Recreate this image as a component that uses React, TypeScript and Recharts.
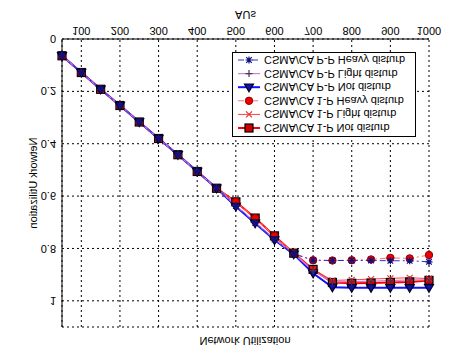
import { CartesianGrid, Legend, Line, LineChart, XAxis, YAxis } from "recharts";

const xs = [50, 100, 150, 200, 250, 300, 350, 400, 450, 500, 550, 600, 650, 700, 750, 800, 850, 900, 950, 1000];

const ppHeavy = [0.064, 0.128, 0.192, 0.254, 0.317, 0.38, 0.442, 0.506, 0.57, 0.638, 0.702, 0.766, 0.821, 0.845, 0.846, 0.846, 0.846, 0.847, 0.847, 0.851];
const ppLight = [0.064, 0.128, 0.192, 0.254, 0.317, 0.38, 0.442, 0.506, 0.57, 0.636, 0.7, 0.764, 0.82, 0.885, 0.928, 0.927, 0.925, 0.923, 0.92, 0.92];
const ppNot = [0.064, 0.128, 0.192, 0.254, 0.317, 0.38, 0.442, 0.506, 0.57, 0.64, 0.704, 0.768, 0.822, 0.895, 0.948, 0.95, 0.95, 0.95, 0.95, 0.95];
const opHeavy = [0.064, 0.128, 0.192, 0.254, 0.317, 0.38, 0.442, 0.506, 0.57, 0.622, 0.684, 0.752, 0.818, 0.845, 0.846, 0.845, 0.842, 0.836, 0.838, 0.825];
const opLight = [0.064, 0.128, 0.192, 0.254, 0.317, 0.38, 0.442, 0.506, 0.57, 0.624, 0.686, 0.754, 0.818, 0.88, 0.922, 0.92, 0.917, 0.914, 0.912, 0.915];
const opNot = [0.064, 0.128, 0.192, 0.254, 0.317, 0.38, 0.442, 0.506, 0.57, 0.622, 0.684, 0.752, 0.818, 0.88, 0.93, 0.933, 0.932, 0.93, 0.928, 0.922];

const xTicks = [100, 200, 300, 400, 500, 600, 700, 800, 900, 1000];
const yTicks = [0, 0.2, 0.4, 0.6, 0.8, 1];

const data = xs.map((x, i) => ({
  x,
  ppHeavy: ppHeavy[i],
  ppLight: ppLight[i],
  ppNot: ppNot[i],
  opHeavy: opHeavy[i],
  opLight: opLight[i],
  opNot: opNot[i]
}));

const FONT = "'Liberation Sans', Arial, sans-serif";

type Marker = "star" | "plus" | "tri" | "circle" | "cross" | "square";

function drawMarker(kind: Marker, cx: number, cy: number, stroke: string, fill: string, key?: number) {
  const r = 3.5;
  switch (kind) {
    case "star":
      return (
        <path
          key={key}
          d={`M${cx - r},${cy}H${cx + r}M${cx},${cy - r}V${cy + r}M${cx - 2.8},${cy - 2.8}L${cx + 2.8},${cy + 2.8}M${cx - 2.8},${cy + 2.8}L${cx + 2.8},${cy - 2.8}`}
          stroke={stroke}
          strokeWidth={1.2}
          fill="none"
        />
      );
    case "plus":
      return (
        <path key={key} d={`M${cx - r},${cy}H${cx + r}M${cx},${cy - r}V${cy + r}`} stroke={stroke} strokeWidth={1.2} fill="none" />
      );
    case "cross":
      return (
        <path
          key={key}
          d={`M${cx - 3},${cy - 3}L${cx + 3},${cy + 3}M${cx - 3},${cy + 3}L${cx + 3},${cy - 3}`}
          stroke={stroke}
          strokeWidth={1.1}
          fill="none"
        />
      );
    case "tri":
      return (
        <path key={key} d={`M${cx},${cy - 4.5}L${cx + 4.5},${cy + 3.2}L${cx - 4.5},${cy + 3.2}Z`} stroke={stroke} strokeWidth={1.2} fill={fill} />
      );
    case "circle":
      return <circle key={key} cx={cx} cy={cy} r={3.7} stroke={stroke} strokeWidth={1} fill={fill} />;
    case "square":
      return <rect key={key} x={cx - 4} y={cy - 4} width={8} height={8} stroke={stroke} strokeWidth={1.2} fill={fill} />;
  }
}

const series = [
  { key: "opNot", name: "CSMA/CA 1-P Not disturb", color: "#ff0000", width: 2, dash: undefined, marker: "square" as Marker, mStroke: "#000000", mFill: "#d00000" },
  { key: "opLight", name: "CSMA/CA 1-P Light disturb", color: "#ff4040", width: 1, dash: undefined, marker: "cross" as Marker, mStroke: "#e03030", mFill: "none" },
  { key: "opHeavy", name: "CSMA/CA 1-P Heavy disturb", color: "#ff7070", width: 1, dash: "6 3 2 3", marker: "circle" as Marker, mStroke: "#900000", mFill: "#ee0000" },
  { key: "ppNot", name: "CSMA/CA P-P Not disturb", color: "#1010ff", width: 2, dash: undefined, marker: "tri" as Marker, mStroke: "#000020", mFill: "#1010b0" },
  { key: "ppLight", name: "CSMA/CA P-P Light disturb", color: "#d080d8", width: 1.2, dash: undefined, marker: "plus" as Marker, mStroke: "#503050", mFill: "none" },
  { key: "ppHeavy", name: "CSMA/CA P-P Heavy disturb", color: "#3030d0", width: 1, dash: "6 3 2 3", marker: "star" as Marker, mStroke: "#101080", mFill: "none" }
];

function LegendBox() {
  return (
    <svg width={185} height={86} style={{ display: "block" }}>
      <rect x={0.5} y={0.5} width={183} height={84} fill="#fff" stroke="#000" strokeWidth={1} />
      {series.map((s, i) => {
        const cy = 9 + i * 13.6;
        return (
          <g key={s.key}>
            <line x1={6} x2={28} y1={cy} y2={cy} stroke={s.color} strokeWidth={s.width} strokeDasharray={s.dash} />
            {drawMarker(s.marker, 17, cy, s.mStroke, s.mFill)}
            <text x={32} y={cy} dominantBaseline="central" fontSize={11} fontFamily={FONT} fill="#000">
              {s.name}
            </text>
          </g>
        );
      })}
    </svg>
  );
}

export default function App() {
  return (
    <div
      style={{
        position: "absolute",
        left: 0,
        top: 0,
        width: 474,
        height: 355,
        background: "#fff",
        transform: "scaleY(-1)"
      }}
    >
      <LineChart width={474} height={355} data={data} margin={{ top: 28, right: 45, bottom: 0, left: 0 }}>
        <CartesianGrid stroke="#000" strokeDasharray="2 3" strokeWidth={1} />
        <XAxis
          dataKey="x"
          type="number"
          domain={[50, 1000]}
          ticks={xTicks}
          height={39}
          axisLine={{ stroke: "#000" }}
          tickLine={false}
          tickSize={3}
          tickMargin={1}
          tick={{ fill: "#000", fontSize: 11, fontFamily: FONT }}
          interval={0}
          label={{ value: "AUs", position: "insideBottom", offset: 11, fill: "#000", fontSize: 11, fontFamily: FONT }}
        />
        <YAxis
          type="number"
          domain={[0, 1.1]}
          ticks={yTicks}
          width={62}
          axisLine={{ stroke: "#000" }}
          tickLine={false}
          tickSize={4}
          tickMargin={2}
          interval={0}
          tick={{ fill: "#000", fontSize: 11, fontFamily: FONT }}
        />
        <Legend
          layout="vertical"
          align="center"
          verticalAlign="middle"
          wrapperStyle={{ left: 232, top: 218, width: 185, height: 86 }}
          content={() => <LegendBox />}
        />
        {series.map((s) => (
          <Line
            key={s.key}
            dataKey={s.key}
            name={s.name}
            type="linear"
            stroke={s.color}
            strokeWidth={s.width}
            strokeDasharray={s.dash}
            isAnimationActive={false}
            dot={(p: any) => drawMarker(s.marker, p.cx, p.cy, s.mStroke, s.mFill, p.index)}
            activeDot={false}
          />
        ))}
      </LineChart>
      <svg width={474} height={355} style={{ position: "absolute", left: 0, top: 0, pointerEvents: "none" }}>
        <text x={245} y={14} textAnchor="middle" dominantBaseline="central" fontSize={11} fontFamily={FONT} fill="#000">
          Network Utilization
        </text>
        <text
          x={33}
          y={172}
          textAnchor="middle"
          dominantBaseline="central"
          fontSize={11}
          fontFamily={FONT}
          fill="#000"
          transform="rotate(-90 33 172)"
        >
          Network Utilization
        </text>
      </svg>
    </div>
  );
}
